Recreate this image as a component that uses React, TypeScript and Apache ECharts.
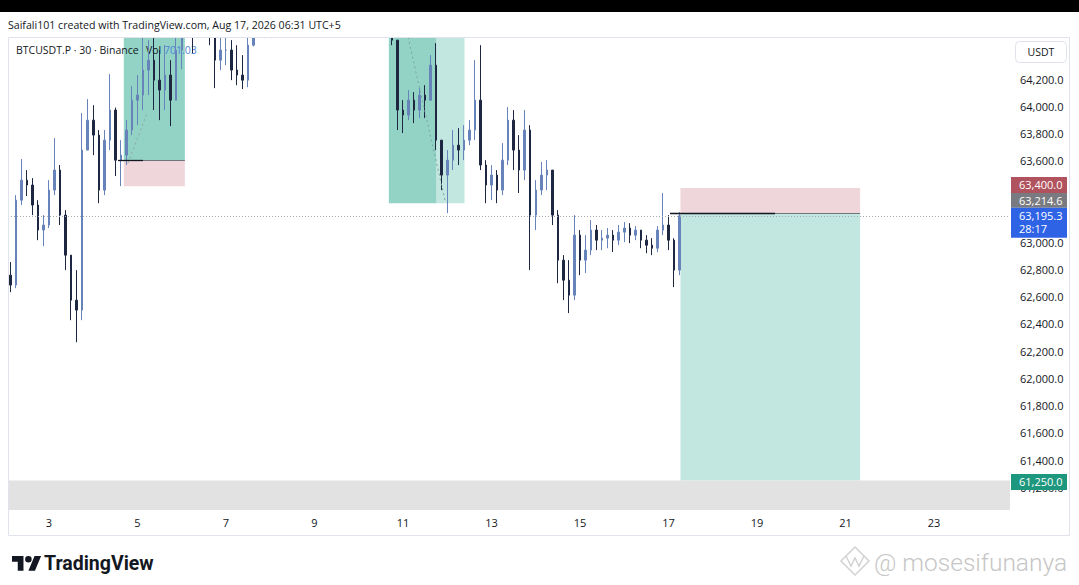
import React, { useEffect, useRef } from "react";
import * as echarts from "echarts";

const FONT = "'Open Sans', 'Noto Sans', sans-serif";

// ---- candle data (3-hour candles, day-of-month on x) ----
const startDay = 2.125;
const stepDay = 0.125;
const firstOpen = 62759;
const closes = [
  62686, 63310, 63457, 63421, 63274, 63090, 63127, 63384, 63531, 63200,
  62906, 62575, 62502, 63678, 63898, 63788, 63384, 63751, 63972, 63604,
  63641, 63825, 64045, 64082, 64266, 64339, 64192, 64119, 64229, 64045,
  64413, 64530, 64707, 64633, 64780, 64743, 64633, 64339, 64413, 64413,
  64266, 64229, 64192, 64449, 64633, 64780, 64670, 64743, 64820, 64900,
  64850, 64930, 64880, 64800, 64760, 64840, 64900, 64980, 64920, 64860,
  64790, 64850, 64920, 64870, 64810, 64740, 64780, 64700, 64640, 64486,
  63972, 63935, 64045, 63972, 64082, 64045, 64302, 63751, 63494, 63604,
  63714, 63678, 63751, 63825, 64045, 63568, 63421, 63494, 63384, 63604,
  63898, 63678, 63531, 63825, 63200, 63384, 63494, 63531, 63200, 62869,
  62722, 62612, 63053, 62869, 62943, 63090, 63016, 63031, 63053, 63016,
  63075, 63105, 63053, 63090, 63016, 62979, 62957, 63090, 63127, 63016,
  62796, 63195,
];
const highs = [
  62855, 63347, 63612, 63531, 63472, 63310, 63200, 63457, 63766, 63568,
  63237, 62906, 62796, 63950, 64053, 64008, 63825, 63825, 64236, 63990,
  63751, 63898, 64148, 64229, 64560, 64486, 64515, 64413, 64449, 64339,
  64633, 64707, 64854, 64817, 64927, 64890, 64854, 64660, 64560, 64523,
  64486, 64449, 64376, 64560, 64854, 64964, 64854, 64927, 64950, 65010,
  64980, 65060, 65000, 64920, 64880, 64960, 65030, 65100, 65050, 64990,
  64910, 64960, 65040, 64990, 64930, 64870, 64900, 64830, 64780, 64854,
  64486, 64045, 64119, 64104, 64133, 64155, 64376, 64464, 63751, 63678,
  63825, 63839, 63861, 63898, 64339, 64449, 63604, 63568, 63531, 63729,
  63994, 63972, 63788, 63972, 63861, 63457, 63590, 63604, 63531, 63237,
  62906, 62869, 63200, 63090, 63053, 63163, 63127, 63090, 63105, 63090,
  63127, 63149, 63141, 63119, 63090, 63053, 63031, 63119, 63362, 63200,
  63030, 63222,
];
const lows = [
  62634, 62663, 63274, 63340, 63200, 63016, 62972, 63105, 63347, 63127,
  62796, 62428, 62266, 62428, 63678, 63641, 63288, 63347, 63678, 63487,
  63413, 63568, 63788, 63861, 63972, 64082, 63972, 63898, 63972, 63854,
  64045, 64273, 64520, 64391, 64560, 64545, 64449, 64133, 64266, 64302,
  64192, 64155, 64126, 64140, 64440, 64633, 64501, 64501, 64700, 64780,
  64760, 64820, 64790, 64690, 64640, 64720, 64790, 64860, 64830, 64740,
  64680, 64720, 64800, 64760, 64700, 64630, 64650, 64590, 64560, 64449,
  63825, 63803, 63898, 63876, 63913, 63913, 64045, 63678, 63384, 63215,
  63531, 63568, 63604, 63714, 63751, 63531, 63288, 63310, 63288, 63347,
  63568, 63531, 63362, 63457, 62796, 63090, 63347, 63384, 63127, 62700,
  62575, 62480, 62575, 62759, 62774, 62906, 62943, 62943, 62957, 62928,
  62979, 63001, 62994, 63016, 62957, 62920, 62906, 62928, 63053, 62943,
  62671, 62759,
];

// ---- axes ----
const priceTicks = [61200, 61400, 61600, 61800, 62000, 62200, 62400, 62600, 62800, 63000, 63600, 63800, 64000, 64200];
const dayTicks = [3, 5, 7, 9, 11, 13, 15, 17, 19, 21, 23];
const xRange = [2.0734, 24.717];
const yRange = [61033, 64509];

// ---- drawings ----
const longDays = [4.69, 6.07];
const longPrices = { stop: 63413, entry: 63604, target: 64509 };
const longEntryDays = [4.559, 5.124];
const longPathPts = [[4.785, 63582], [5.215, 63950]];

const midDays = [10.68, 11.76, 12.39];
const midPrices = [63288, 64509];
const midPathPts = [[11.113, 64508], [11.949, 63310]];

const shortDays = [17.27, 21.33];
const shortPrices = { target: 61250, entry: 63214.6, stop: 63400 };
const shortEntryDays = [17.034, 19.407];

const currentPrice = 63195.3;
const countdown = "28:17";

const UP = "#6683ba";
const DOWN = "#1d2741";
const GREEN_DARK = "#92d3c6";
const GREEN_LIGHT = "#c1e7e0";
const RED = "#efd6da";
const GREY_BAND = "#e2e2e2";

const fmt = (v: number) =>
  v.toLocaleString("en-US", { minimumFractionDigits: 1, maximumFractionDigits: 1 });

try {
  echarts.graphic.registerShape(
    "tvlogo",
    echarts.graphic.extendPath(
      "M14 22H7V11H0V4h14v18zM28 22h-8l7.5-18h8L28 22zM24 8a4 4 0 1 1-8 0a4 4 0 1 1 8 0z",
      {}
    ) as any
  );
} catch (e) {}

export default function App() {
  const ref = useRef<HTMLDivElement>(null);

  useEffect(() => {
    if (!ref.current) return;
    const chart = echarts.init(ref.current, null, { renderer: "svg" });

    const candleData = closes.map((c, i) => [
      startDay + i * stepDay,
      i === 0 ? firstOpen : closes[i - 1],
      c,
      lows[i],
      highs[i],
    ]);

    const line = (color: string, width: number, type: any = "solid") => ({
      color,
      width,
      type,
      opacity: 1,
    });

    chart.setOption({
      animation: false,
      backgroundColor: "#ffffff",
      grid: { left: 8, top: 37, width: 1002, height: 473, containLabel: false },
      xAxis: {
        type: "value",
        min: xRange[0],
        max: xRange[1],
        axisLine: { show: false },
        axisTick: { show: false },
        splitLine: { show: false },
        axisLabel: {
          customValues: dayTicks,
          formatter: (v: number) => String(Math.round(v)),
          color: "#131722",
          fontSize: 11,
          fontFamily: FONT,
          margin: 7,
        },
      },
      yAxis: {
        type: "value",
        position: "right",
        min: yRange[0],
        max: yRange[1],
        scale: true,
        axisLine: { show: false },
        axisTick: { show: false },
        splitLine: { show: false },
        axisLabel: {
          customValues: priceTicks,
          formatter: (v: number) => fmt(v),
          color: "#131722",
          fontSize: 11,
          fontFamily: FONT,
          margin: 10,
          align: "left",
        },
      },
      series: [
        {
          type: "candlestick",
          data: candleData,
          encode: { x: 0, y: [1, 2, 3, 4] },
          barWidth: 2,
          itemStyle: {
            color: UP,
            color0: DOWN,
            borderColor: UP,
            borderColor0: DOWN,
            borderWidth: 1,
          },
          markArea: {
            silent: true,
            data: [
              [
                { xAxis: longDays[0], yAxis: longPrices.entry, itemStyle: { color: GREEN_DARK, opacity: 1 } },
                { xAxis: longDays[1], yAxis: longPrices.target },
              ],
              [
                { xAxis: longDays[0], yAxis: longPrices.stop, itemStyle: { color: RED, opacity: 1 } },
                { xAxis: longDays[1], yAxis: longPrices.entry },
              ],
              [
                { xAxis: midDays[0], yAxis: midPrices[0], itemStyle: { color: GREEN_DARK, opacity: 1 } },
                { xAxis: midDays[1], yAxis: midPrices[1] },
              ],
              [
                { xAxis: midDays[1], yAxis: midPrices[0], itemStyle: { color: GREEN_LIGHT, opacity: 1 } },
                { xAxis: midDays[2], yAxis: midPrices[1] },
              ],
              [
                { xAxis: shortDays[0], yAxis: shortPrices.entry, itemStyle: { color: RED, opacity: 1 } },
                { xAxis: shortDays[1], yAxis: shortPrices.stop },
              ],
              [
                { xAxis: shortDays[0], yAxis: shortPrices.target, itemStyle: { color: GREEN_LIGHT, opacity: 1 } },
                { xAxis: shortDays[1], yAxis: shortPrices.entry },
              ],
              [
                { xAxis: xRange[0], yAxis: yRange[0], itemStyle: { color: GREY_BAND, opacity: 1 } },
                { xAxis: xRange[1], yAxis: shortPrices.target },
              ],
            ],
          },
          markLine: {
            silent: true,
            symbol: ["none", "none"],
            label: { show: false },
            data: [
              { yAxis: currentPrice, lineStyle: line("#a6a9b1", 1, [1, 2]) },
              [
                { coord: [longEntryDays[0], longPrices.entry], lineStyle: line("#131722", 1.3) },
                { coord: [longEntryDays[1], longPrices.entry] },
              ],
              [
                { coord: [longEntryDays[1], longPrices.entry], lineStyle: line("#6f737c", 1) },
                { coord: [longDays[1], longPrices.entry] },
              ],
              [
                { coord: longPathPts[0], lineStyle: line("#8fa8a3", 1, [2, 3]) },
                { coord: longPathPts[1] },
              ],
              [
                { coord: midPathPts[0], lineStyle: line("#7fa49c", 1, [2, 3]) },
                { coord: midPathPts[1] },
              ],
              [
                { coord: [shortEntryDays[0], shortPrices.entry], lineStyle: line("#131722", 1.3) },
                { coord: [shortEntryDays[1], shortPrices.entry] },
              ],
              [
                { coord: [shortEntryDays[1], shortPrices.entry], lineStyle: line("#6f737c", 1) },
                { coord: [shortDays[1], shortPrices.entry] },
              ],
            ],
          },
        },
      ],
    });

    const toY = (v: number) => chart.convertToPixel({ yAxisIndex: 0 } as any, v) as number;
    const yRed = toY(shortPrices.stop);
    const yBlue = toY(currentPrice);
    const yTeal = toY(shortPrices.target);
    const redTop = yRed - 11;
    const blueTop = yBlue - 8;
    const bx = 1011;
    const bw = 56;
    const tx = 1019;

    const badge = (top: number, h: number, fill: string, texts: { t: string; y: number }[]) => ({
      type: "group",
      z: 100,
      children: [
        { type: "rect", shape: { x: bx, y: top, width: bw, height: h }, style: { fill }, z: 100 },
        ...texts.map((tt) => ({
          type: "text",
          z: 101,
          style: {
            text: tt.t,
            x: tx,
            y: tt.y,
            fill: "#ffffff",
            font: `11px ${FONT}`,
            verticalAlign: "middle",
          },
        })),
      ],
    });

    chart.setOption({
      graphic: [
        // covers above the pane
        { type: "rect", z: 90, shape: { x: 0, y: 0, width: 1079, height: 37 }, style: { fill: "#ffffff" } },
        { type: "rect", z: 91, shape: { x: 0, y: 0, width: 1079, height: 12 }, style: { fill: "#000000" } },
        {
          type: "text",
          z: 92,
          style: {
            text: "Saifali101 created with TradingView.com, Aug 17, 2026 06:31 UTC+5",
            x: 8,
            y: 25,
            fill: "#131722",
            font: `10.6px ${FONT}`,
            verticalAlign: "middle",
          },
        },
        // pane border
        {
          type: "rect",
          z: 92,
          shape: { x: 8.5, y: 37.5, width: 1061, height: 498 },
          style: { fill: "none", stroke: "#e0e3eb", lineWidth: 1 },
        },
        // legend (above boxes, under candles)
        {
          type: "text",
          z: 1.5,
          style: {
            text: "BTCUSDT.P · 30 · Binance",
            x: 16,
            y: 50,
            fill: "#131722",
            font: `10.5px ${FONT}`,
            verticalAlign: "middle",
          },
        },
        {
          type: "text",
          z: 1.5,
          style: { text: "Vol", x: 146, y: 50, fill: "#131722", font: `10.5px ${FONT}`, verticalAlign: "middle" },
        },
        {
          type: "text",
          z: 1.5,
          style: { text: "701.03", x: 164, y: 50, fill: "#4f86d8", font: `10.5px ${FONT}`, verticalAlign: "middle" },
        },
        // USDT badge
        {
          type: "rect",
          z: 95,
          shape: { x: 1015.5, y: 41.5, width: 51, height: 21, r: 4 },
          style: { fill: "#ffffff", stroke: "#e0e3eb", lineWidth: 1 },
        },
        {
          type: "text",
          z: 96,
          style: {
            text: "USDT",
            x: 1041,
            y: 52,
            fill: "#131722",
            font: `10.5px ${FONT}`,
            align: "center",
            verticalAlign: "middle",
          },
        },
        badge(redTop, 16, "#b0535e", [{ t: fmt(shortPrices.stop), y: redTop + 8 }]),
        badge(redTop + 16, blueTop - redTop - 16, "#7a7b80", [
          { t: fmt(shortPrices.entry), y: (redTop + 16 + blueTop) / 2 },
        ]),
        badge(blueTop, 30, "#2f63e6", [
          { t: fmt(currentPrice), y: blueTop + 8 },
          { t: countdown, y: blueTop + 21 },
        ]),
        badge(yTeal - 6.5, 16, "#1e977f", [{ t: fmt(shortPrices.target), y: yTeal + 1.5 }]),
        // footer logo
        { type: "tvlogo", z: 95, x: 12, y: 552.7, scaleX: 0.82, scaleY: 0.82, style: { fill: "#131722" } },
        {
          type: "text",
          z: 95,
          style: {
            text: "TradingView",
            x: 44,
            y: 563,
            fill: "#131722",
            font: `bold 19.5px Roboto, ${FONT}`,
            verticalAlign: "middle",
          },
        },
        // watermark
        {
          type: "polygon",
          z: 95,
          shape: { points: [[855, 547], [869, 561], [855, 575], [841, 561]] },
          style: { fill: "none", stroke: "#d2d2d2", lineWidth: 1.5 },
        },
        {
          type: "polyline",
          z: 95,
          shape: { points: [[846, 556], [851, 566], [855, 558], [859, 566], [864, 556]] },
          style: { fill: "none", stroke: "#d2d2d2", lineWidth: 1.5 },
        },
        {
          type: "text",
          z: 95,
          style: {
            text: "@ mosesifunanya",
            x: 874,
            y: 562,
            fill: "#c6c6c6",
            font: `300 24.5px Roboto, ${FONT}`,
            verticalAlign: "middle",
          },
        },
      ],
    });

    return () => chart.dispose();
  }, []);

  return (
    <div
      style={{ position: "fixed", left: 0, top: 0, width: 1079, height: 585, background: "#ffffff" }}
    >
      <div ref={ref} style={{ width: 1079, height: 585 }} />
    </div>
  );
}
